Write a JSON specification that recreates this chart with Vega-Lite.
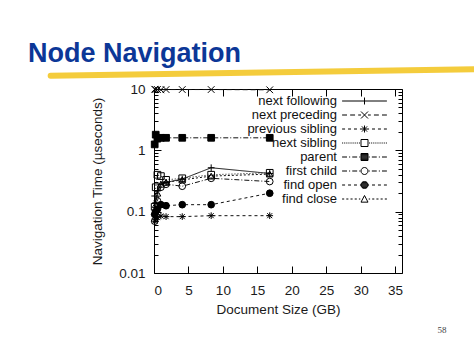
{
  "$schema": "https://vega.github.io/schema/vega-lite/v6.json",
  "width": 248,
  "height": 184,
  "autosize": {"type": "none"},
  "padding": {"left": 154, "top": 89, "right": 72, "bottom": 82},
  "background": "white",
  "title": {"text": "Node Navigation", "anchor": "start", "frame": "group", "font": "Liberation Sans", "fontSize": 27, "fontWeight": "bold", "color": "#0c3797", "dx": -126, "dy": 2, "offset": 0},
  "data": {"values": [
    {"series": "next following", "x": 0.1, "y": 0.18}, {"series": "next following", "x": 0.25, "y": 0.14}, {"series": "next following", "x": 0.5, "y": 0.22}, {"series": "next following", "x": 1.0, "y": 0.28}, {"series": "next following", "x": 1.75, "y": 0.3}, {"series": "next following", "x": 4.1, "y": 0.34}, {"series": "next following", "x": 8.3, "y": 0.52}, {"series": "next following", "x": 16.8, "y": 0.42},
    {"series": "next preceding", "x": 0.1, "y": 9.9}, {"series": "next preceding", "x": 0.25, "y": 9.8}, {"series": "next preceding", "x": 0.5, "y": 9.8}, {"series": "next preceding", "x": 1.0, "y": 9.7}, {"series": "next preceding", "x": 1.75, "y": 9.8}, {"series": "next preceding", "x": 4.1, "y": 9.8}, {"series": "next preceding", "x": 8.3, "y": 9.8}, {"series": "next preceding", "x": 16.8, "y": 9.7},
    {"series": "previous sibling", "x": 0.1, "y": 0.07}, {"series": "previous sibling", "x": 0.25, "y": 0.075}, {"series": "previous sibling", "x": 0.5, "y": 0.08}, {"series": "previous sibling", "x": 1.0, "y": 0.085}, {"series": "previous sibling", "x": 1.75, "y": 0.083}, {"series": "previous sibling", "x": 4.1, "y": 0.083}, {"series": "previous sibling", "x": 8.3, "y": 0.086}, {"series": "previous sibling", "x": 16.8, "y": 0.086},
    {"series": "next sibling", "x": 0.1, "y": 0.12}, {"series": "next sibling", "x": 0.25, "y": 0.25}, {"series": "next sibling", "x": 0.5, "y": 0.4}, {"series": "next sibling", "x": 1.0, "y": 0.38}, {"series": "next sibling", "x": 1.75, "y": 0.33}, {"series": "next sibling", "x": 4.1, "y": 0.35}, {"series": "next sibling", "x": 8.3, "y": 0.4}, {"series": "next sibling", "x": 16.8, "y": 0.43},
    {"series": "parent", "x": 0.1, "y": 1.25}, {"series": "parent", "x": 0.25, "y": 1.8}, {"series": "parent", "x": 0.5, "y": 1.55}, {"series": "parent", "x": 1.0, "y": 1.6}, {"series": "parent", "x": 1.75, "y": 1.6}, {"series": "parent", "x": 4.1, "y": 1.6}, {"series": "parent", "x": 8.3, "y": 1.6}, {"series": "parent", "x": 16.8, "y": 1.6},
    {"series": "first child", "x": 0.1, "y": 0.07}, {"series": "first child", "x": 0.25, "y": 0.1}, {"series": "first child", "x": 0.5, "y": 0.15}, {"series": "first child", "x": 1.0, "y": 0.25}, {"series": "first child", "x": 1.75, "y": 0.28}, {"series": "first child", "x": 4.1, "y": 0.26}, {"series": "first child", "x": 8.3, "y": 0.35}, {"series": "first child", "x": 16.8, "y": 0.31},
    {"series": "find open", "x": 0.1, "y": 0.09}, {"series": "find open", "x": 0.25, "y": 0.1}, {"series": "find open", "x": 0.5, "y": 0.11}, {"series": "find open", "x": 1.0, "y": 0.13}, {"series": "find open", "x": 1.75, "y": 0.125}, {"series": "find open", "x": 4.1, "y": 0.13}, {"series": "find open", "x": 8.3, "y": 0.13}, {"series": "find open", "x": 16.8, "y": 0.2},
    {"series": "find close", "x": 0.1, "y": 0.1}, {"series": "find close", "x": 0.25, "y": 0.13}, {"series": "find close", "x": 0.5, "y": 0.2}, {"series": "find close", "x": 1.0, "y": 0.28}, {"series": "find close", "x": 1.75, "y": 0.3}, {"series": "find close", "x": 4.1, "y": 0.33}, {"series": "find close", "x": 8.3, "y": 0.38}, {"series": "find close", "x": 16.8, "y": 0.41}
  ]},
  "resolve": {"axis": {"x": "independent", "y": "independent"}, "scale": {"shape": "independent"}},
  "layer": [
    {
      "mark": {"type": "line", "color": "#111", "strokeWidth": 1},
      "encoding": {
        "x": {"field": "x", "type": "quantitative", "scale": {"domain": [0, 36], "nice": false, "zero": false},
              "axis": {"orient": "bottom", "values": [0, 5, 10, 15, 20, 25, 30, 35], "tickSize": -7, "labelPadding": 17, "title": "Document Size (GB)", "titlePadding": 6}},
        "y": {"field": "y", "type": "quantitative", "scale": {"type": "log", "domain": [0.01, 10], "nice": false},
              "axis": {"orient": "left", "values": [0.01, 0.1, 1, 10], "format": "~g", "tickSize": -7, "labelPadding": 16, "title": "Navigation Time (µseconds)", "titlePadding": 14}},
        "strokeDash": {"field": "series", "type": "nominal", "legend": null,
          "scale": {"domain": ["find close", "find open", "first child", "next following", "next preceding", "next sibling", "parent", "previous sibling"],
                    "range": [[2, 2], [3, 3], [5, 2, 1, 2], [1, 0], [5, 3], [1, 2], [5, 2, 1, 2], [3, 3]]}},
        "detail": {"field": "series"}
      }
    },
    {
      "mark": {"type": "point", "filled": false, "color": "black", "strokeWidth": 1, "size": 45, "opacity": 1},
      "encoding": {
        "x": {"field": "x", "type": "quantitative", "scale": {"domain": [0, 36], "nice": false, "zero": false},
              "axis": {"orient": "top", "values": [0, 5, 10, 15, 20, 25, 30, 35], "tickSize": -7, "labels": false, "title": null}},
        "y": {"field": "y", "type": "quantitative", "scale": {"type": "log", "domain": [0.01, 10], "nice": false},
              "axis": {"orient": "left", "values": [0.02, 0.03, 0.04, 0.05, 0.06, 0.07, 0.08, 0.09, 0.2, 0.3, 0.4, 0.5, 0.6, 0.7, 0.8, 0.9, 2, 3, 4, 5, 6, 7, 8, 9], "tickSize": -4, "labels": false, "title": null}},
        "fill": {"condition": {"test": "datum.series === 'parent' || datum.series === 'find open'", "value": "black"}, "value": "transparent"},
        "shape": {"field": "series", "type": "nominal", "legend": null,
          "scale": {"domain": ["next following", "next preceding", "previous sibling", "next sibling", "parent", "first child", "find open", "find close"],
                    "range": ["M-1,0H1M0,-1V1", "M-1,-1L1,1M-1,1L1,-1", "M-1,0H1M0,-1V1M-0.75,-0.75L0.75,0.75M-0.75,0.75L0.75,-0.75", "square", "square", "circle", "circle", "triangle-up"]}}
      }
    },
    {
      "mark": {"type": "point", "filled": false, "color": "black", "strokeWidth": 1, "size": 45, "opacity": 0},
      "encoding": {
        "x": {"field": "x", "type": "quantitative", "scale": {"domain": [0, 36], "nice": false, "zero": false}, "axis": null},
        "y": {"field": "y", "type": "quantitative", "scale": {"type": "log", "domain": [0.01, 10], "nice": false}, "axis": null},
        "shape": {"field": "series", "type": "nominal",
          "scale": {"domain": ["next following", "next preceding", "previous sibling", "next sibling", "parent", "first child", "find open", "find close"],
                    "range": [
                      "M-6.4,0H6.4M0,-1V1",
                      "M-6.4,0H-5M-4.1,0H-2.7M-1.8,0H-1M1,0H1.8M2.7,0H4.1M5,0H6.4M-1,-1L1,1M-1,1L1,-1",
                      "M-6.4,0H-5.55M-4.7,0H-3.85M-3,0H-2.15M-1.3,0H-1M1,0H1.3M2.15,0H3M3.85,0H4.7M5.55,0H6.4M-1,0H1M0,-1V1M-0.75,-0.75L0.75,0.75M-0.75,0.75L0.75,-0.75",
                      "M-6.4,0H-6.1M-5.8,0H-5.5M-5.2,0H-4.9M-4.6,0H-4.3M-4,0H-3.7M-3.4,0H-3.1M-2.8,0H-2.5M-2.2,0H-1.9M-1.6,0H-1.3M1.3,0H1.6M1.9,0H2.2M2.5,0H2.8M3.1,0H3.4M3.7,0H4M4.3,0H4.6M4.9,0H5.2M5.5,0H5.8M6.1,0H6.4M-1,-1H1V1H-1Z",
                      "M-6.4,0H-5M-4.4,0H-4.1M-3.5,0H-2.1M-1.5,0H-1.2M1.2,0H1.5M2.1,0H3.5M4.1,0H4.4M5,0H6.4M-1,-1H1V1H-1ZM-1,-0.75H1M-1,-0.5H1M-1,-0.25H1M-1,0H1M-1,0.25H1M-1,0.5H1M-1,0.75H1",
                      "M-6.4,0H-5M-4.4,0H-4.1M-3.5,0H-2.1M-1.5,0H-1.2M1.2,0H1.5M2.1,0H3.5M4.1,0H4.4M5,0H6.4M1,0A1,1 0 1,1 -1,0A1,1 0 1,1 1,0Z",
                      "M-6.4,0H-5.55M-4.7,0H-3.85M-3,0H-2.15M-1.3,0H-1M1,0H1.3M2.15,0H3M3.85,0H4.7M5.55,0H6.4M1,0A1,1 0 1,1 -1,0A1,1 0 1,1 1,0ZM-0.66,-0.75H0.66M-0.87,-0.5H0.87M-0.97,-0.25H0.97M-1,0H1M-0.97,0.25H0.97M-0.87,0.5H0.87M-0.66,0.75H0.66",
                      "M-6.4,0H-5.8M-5.2,0H-4.6M-4,0H-3.4M-2.8,0H-2.2M-1.6,0H-1.2M1.2,0H1.6M2.2,0H2.8M3.4,0H4M4.6,0H5.2M5.8,0H6.4M0,-1L1,0.9H-1Z"
                    ]},
          "legend": {
            "orient": "none", "legendX": 170, "legendY": 5.5, "title": null, "padding": 0,
            "labelAlign": "right", "labelOffset": -34, "symbolOffset": 34, "symbolSize": 49, "symbolStrokeWidth": 1,
            "symbolOpacity": 1, "symbolStrokeColor": "black", "symbolFillColor": "transparent",
            "rowPadding": -1.1, "labelFontSize": 13, "labelFont": "Liberation Sans", "labelColor": "#111", "labelLimit": 300
          }
        }
      }
    },
    {
      "data": {"values": [{}]},
      "mark": {"type": "rule", "color": "#f2c31a", "strokeWidth": 6, "strokeCap": "round", "opacity": 0.85},
      "encoding": {
        "x": {"datum": -15, "type": "quantitative", "scale": {"domain": [0, 36], "nice": false, "zero": false}, "axis": null},
        "x2": {"datum": 46.5},
        "y": {"datum": 16.4, "type": "quantitative", "scale": {"type": "log", "domain": [0.01, 10], "nice": false},
              "axis": {"orient": "right", "values": [0.01, 0.1, 1, 10], "tickSize": -7, "labels": false, "title": null}},
        "y2": {"datum": 21}
      }
    },
    {
      "data": {"values": [{}]},
      "mark": {"type": "text", "font": "Liberation Serif", "fontSize": 9, "color": "#444"},
      "encoding": {
        "x": {"datum": 41.8, "type": "quantitative", "scale": {"domain": [0, 36], "nice": false, "zero": false}, "axis": null},
        "y": {"datum": 0.00118, "type": "quantitative", "scale": {"type": "log", "domain": [0.01, 10], "nice": false},
              "axis": {"orient": "right", "values": [0.02, 0.03, 0.04, 0.05, 0.06, 0.07, 0.08, 0.09, 0.2, 0.3, 0.4, 0.5, 0.6, 0.7, 0.8, 0.9, 2, 3, 4, 5, 6, 7, 8, 9], "tickSize": -4, "labels": false, "title": null}},
        "text": {"value": "58"}
      }
    }
  ],
  "config": {
    "view": {"stroke": "black", "strokeWidth": 1},
    "axis": {"domain": false, "grid": false, "tickColor": "black", "tickWidth": 1, "labelFont": "Liberation Sans", "labelFontSize": 13.5, "labelColor": "#1a1a1a", "titleFont": "Liberation Sans", "titleFontSize": 13.5, "titleFontWeight": "normal", "titleColor": "#1a1a1a"}
  }
}
